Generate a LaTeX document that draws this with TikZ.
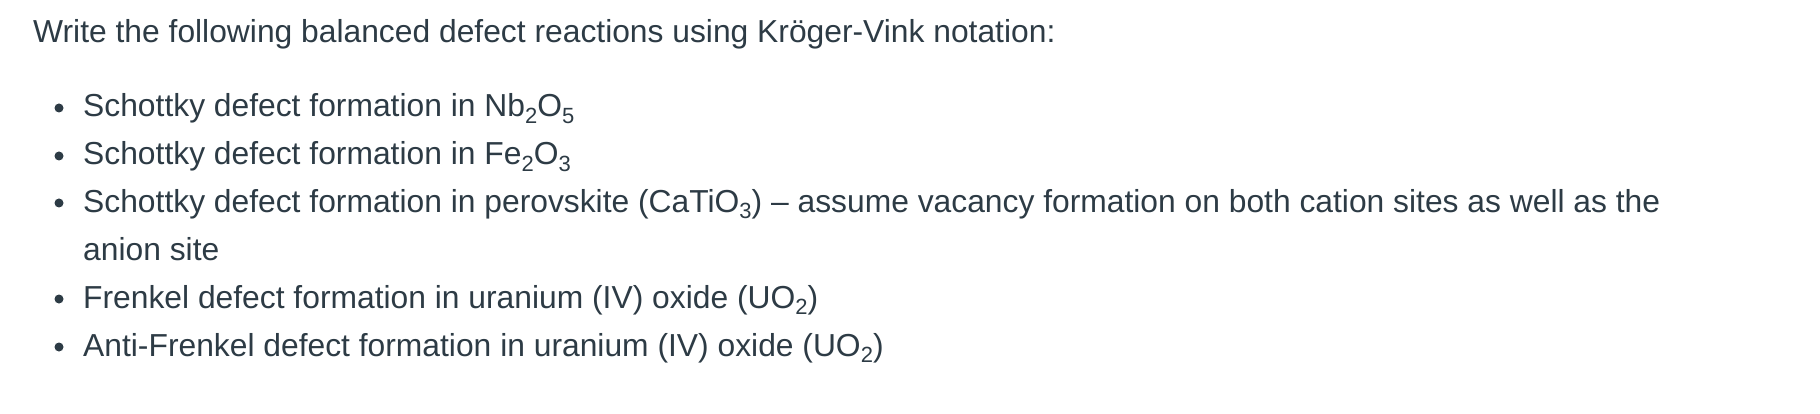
\documentclass[tikz,border=0pt]{standalone}
\usepackage{fontspec}
\setmainfont{Liberation Sans}
\definecolor{txt}{HTML}{2D3B45}
\newcommand{\sbs}[1]{\raisebox{-0.22em}{\fontsize{22}{24}\selectfont #1}}
\begin{document}
\begin{tikzpicture}[x=1pt,y=-1pt,
  t/.style={anchor=base west,inner sep=0,text=txt,font=\fontsize{31.8}{36}\selectfont},
  b/.style={circle,fill=txt,inner sep=0,minimum size=9}]
\useasboundingbox (0,0) rectangle (1820,414);
\node[t] (title) at (33,43) {Write the following balanced defect reactions using Kröger-Vink notation:};
\node[b] (b1) at (59,108) {}; \node[t] (l1) at (83,117) {Schottky defect formation in Nb\sbs{2}O\sbs{5}};
\node[b] (b2) at (59,156) {}; \node[t] (l2) at (83,165) {Schottky defect formation in Fe\sbs{2}O\sbs{3}};
\node[b] (b3) at (59,203) {}; \node[t] (l3) at (83,212) {Schottky defect formation in perovskite (CaTiO\sbs{3}) – assume vacancy formation on both cation sites as well as the};
\node[t] (l3b) at (83,260) {anion site};
\node[b] (b4) at (59,299) {}; \node[t] (l4) at (83,308) {Frenkel defect formation in uranium (IV) oxide (UO\sbs{2})};
\node[b] (b5) at (59,347) {}; \node[t] (l5) at (83,356) {Anti-Frenkel defect formation in uranium (IV) oxide (UO\sbs{2})};
\end{tikzpicture}
\end{document}
